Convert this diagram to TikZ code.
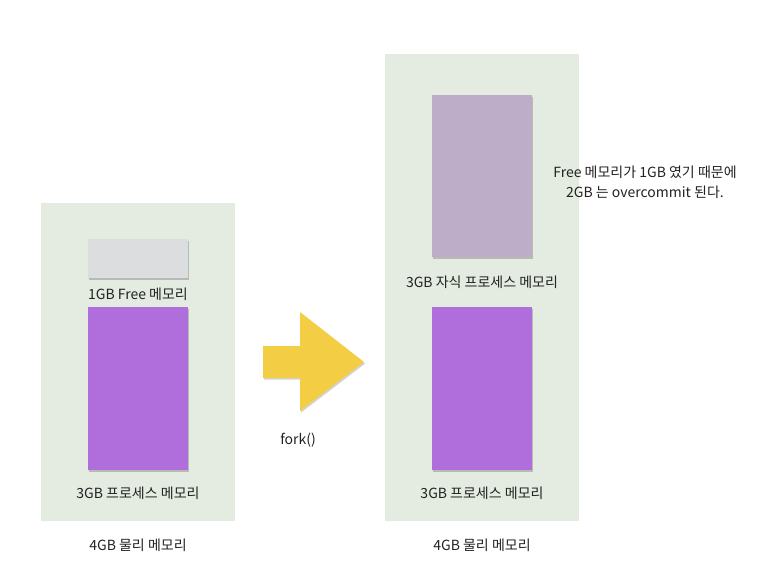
\documentclass[tikz,border=0pt]{standalone}
\usepackage{fontspec}
\setmainfont{Noto Sans CJK KR}
\usetikzlibrary{shadows}
\definecolor{panel}{HTML}{E4ECE1}
\definecolor{freegray}{HTML}{DCDDDE}
\definecolor{procpurple}{HTML}{B06EDD}
\definecolor{childpurple}{HTML}{BDADC8}
\definecolor{arrowyellow}{HTML}{F3CE45}
\definecolor{txt}{HTML}{222222}
\begin{document}
\begin{tikzpicture}[x=0.75pt,y=-0.75pt,
  membox/.style={draw=none,drop shadow={shadow xshift=0.6pt,shadow yshift=-1.2pt,opacity=0.45}},
  lbl/.style={text=txt,font=\fontsize{10.5}{15}\selectfont,inner sep=0pt,align=center}]
\useasboundingbox (0,0) rectangle (760,587);
% panels
\fill[panel] (41,203) rectangle (235,521);
\fill[panel] (385,54) rectangle (579,521);
% left boxes
\fill[freegray,membox] (88,239) rectangle (188,278);
\node[lbl] (lfree) at (138,294) {1GB Free 메모리};
\fill[procpurple,membox] (88,307) rectangle (188,470);
\node[lbl] (lproc) at (138,493) {3GB 프로세스 메모리};
\node[lbl] (lphys) at (138,545) {4GB 물리 메모리};
% arrow
\fill[arrowyellow,drop shadow={shadow xshift=0.8pt,shadow yshift=-1.2pt,opacity=0.35}]
  (263,346) -- (300,346) -- (300,312) -- (364,362) -- (300,411) -- (300,378) -- (263,378) -- cycle;
\node[lbl] (fork) at (298,440) {fork()};
% right boxes
\fill[childpurple,membox] (432,95) rectangle (532,257);
\node[lbl] (rchild) at (482,282) {3GB 자식 프로세스 메모리};
\fill[procpurple,membox] (432,307) rectangle (532,470);
\node[lbl] (rproc) at (482,493) {3GB 프로세스 메모리};
\node[lbl] (rphys) at (482,545) {4GB 물리 메모리};
% note
\node[lbl] (note) at (645,182) {Free 메모리가 1GB 였기 때문에\\2GB 는 overcommit 된다.};
\end{tikzpicture}
\end{document}
